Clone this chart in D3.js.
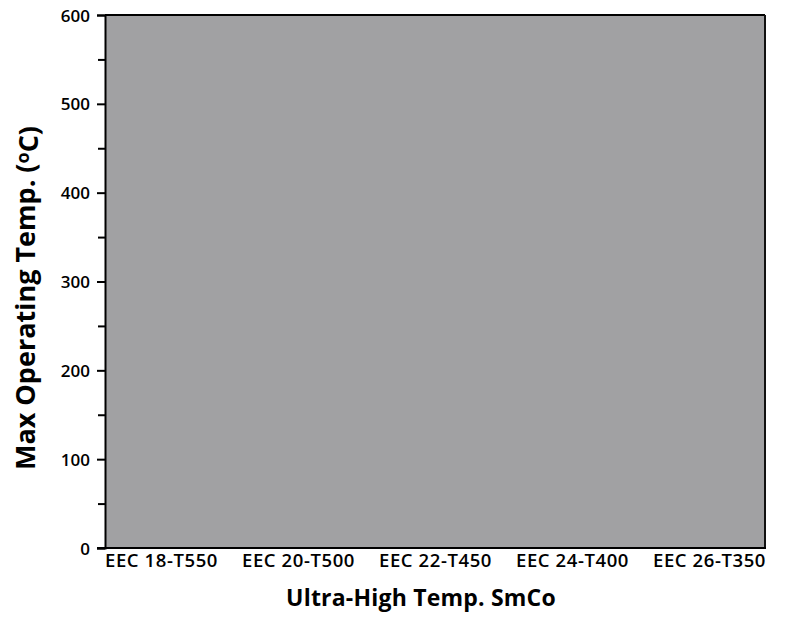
<!DOCTYPE html>
<html>
<head>
    <meta charset="utf-8">
    <style>
        body { margin: 0; background: white; }
        svg { display: block; font-family: 'Open Sans', sans-serif; }
    </style>
</head>
<body>
    <svg width="811" height="620"></svg>

<script src="https://d3js.org/d3.v7.min.js"></script>
<script>
    // data
    let grades = ["EEC 18-T550", "EEC 20-T500", "EEC 22-T450", "EEC 24-T400", "EEC 26-T350"]
    let maxTemp = [600, 600, 600, 600, 600]
    let yTicks = [0, 100, 200, 300, 400, 500, 600]
    let yMinorTicks = [50, 150, 250, 350, 450, 550]

    let svg = d3.select("svg")

    let plotLeft = 105, plotRight = 765, plotTop = 15, plotBottom = 548

    let x = d3.scaleBand()
        .domain(grades)
        .range([93, 778])
        .padding(0)

    let y = d3.scaleLinear()
        .domain([0, 600])
        .range([plotBottom, plotTop])

    svg.append("clipPath")
        .attr("id", "plot")
        .append("rect")
        .attr("x", plotLeft)
        .attr("y", plotTop)
        .attr("width", plotRight - plotLeft)
        .attr("height", plotBottom - plotTop)

    // bars
    svg.append("g")
        .attr("clip-path", "url(#plot)")
        .selectAll("rect")
        .data(grades)
        .join("rect")
        .attr("x", d => x(d))
        .attr("width", x.bandwidth() + 1)
        .attr("y", (d, i) => y(maxTemp[i]))
        .attr("height", (d, i) => y(0) - y(maxTemp[i]))
        .style("fill", "#a1a1a3")

    // frame top + right
    svg.append("line")
        .attr("x1", plotLeft).attr("x2", plotRight)
        .attr("y1", plotTop).attr("y2", plotTop)
        .style("stroke", "#000").style("stroke-width", 2)
    svg.append("line")
        .attr("x1", plotRight).attr("x2", plotRight)
        .attr("y1", plotTop).attr("y2", plotBottom)
        .style("stroke", "#111").style("stroke-width", 2)

    // y axis
    let yAxis = svg.append("g")
        .attr("transform", `translate(${plotLeft},0)`)
        .call(d3.axisLeft(y).tickValues(yTicks).tickSize(8).tickPadding(7).tickFormat(d3.format("d")))
    svg.append("g")
        .attr("transform", `translate(${plotLeft},0)`)
        .call(d3.axisLeft(y).tickValues(yMinorTicks).tickSize(7).tickFormat(""))
        .call(g => g.select(".domain").remove())

    svg.selectAll(".tick line").style("stroke", "#000").style("stroke-width", 2)
    yAxis.select(".domain").style("stroke", "#000").style("stroke-width", 2)
    yAxis.selectAll("text")
        .style("font-size", "17px")
        .style("font-weight", 600)
        .style("fill", "#000")
        .attr("dy", "0.36em")
        .style("font-family", "'Open Sans', sans-serif")

    // x axis
    let xAxis = svg.append("g")
        .attr("transform", `translate(0,${plotBottom})`)
        .call(d3.axisBottom(x).tickSize(0).tickPadding(6))
    xAxis.select(".domain").remove()
    xAxis.selectAll("text")
        .style("font-size", "18.5px")
        .style("font-weight", 600)
        .style("letter-spacing", "0.6px")
        .style("fill", "#000")
        .style("font-family", "'Open Sans', sans-serif")

    svg.append("line")
        .attr("x1", 97).attr("x2", plotRight + 1)
        .attr("y1", plotBottom).attr("y2", plotBottom)
        .style("stroke", "#000").style("stroke-width", 2)

    // titles
    svg.append("text")
        .attr("x", 421)
        .attr("y", 606)
        .attr("text-anchor", "middle")
        .style("font-size", "23px")
        .style("font-weight", "bold")
        .style("letter-spacing", "0.2px")
        .text("Ultra-High Temp. SmCo")

    let yTitle = svg.append("text")
        .attr("transform", "translate(35,298) rotate(-90)")
        .attr("text-anchor", "middle")
        .style("font-size", "27px")
        .style("font-weight", "bold")
    yTitle.append("tspan").text("Max Operating Temp. (")
    yTitle.append("tspan").attr("dy", "-0.35em").style("font-size", "18px").text("o")
    yTitle.append("tspan").attr("dy", "0.35em").text("C)")
</script>
</body>
</html>
